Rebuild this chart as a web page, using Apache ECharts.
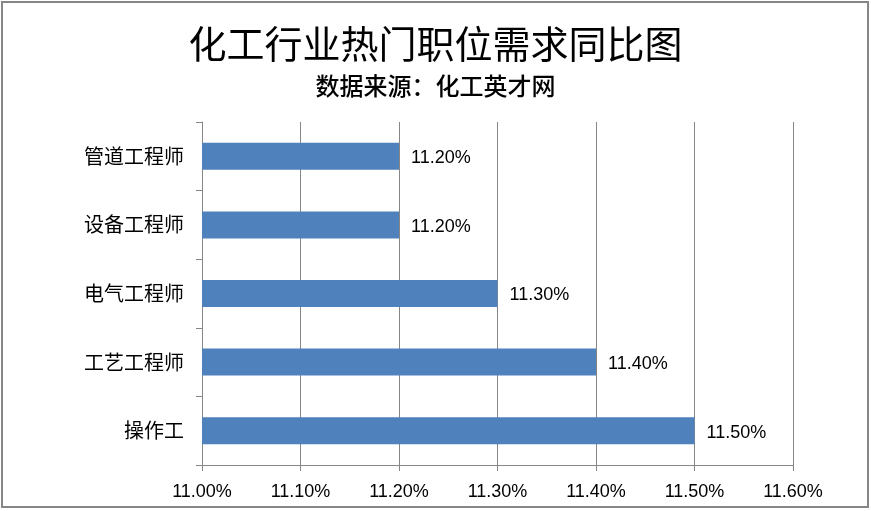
<!DOCTYPE html>
<html>
<head>
<meta charset="utf-8">
<script src="https://cdn.jsdelivr.net/npm/echarts@6/dist/echarts.min.js"></script>
<style>
  html, body { margin: 0; padding: 0; background: #fff; }
  #main { width: 871px; height: 511px; }
</style>
</head>
<body>
<div id="main"></div>
<script>
// 职位（从下到上）
const jobs = ['操作工', '工艺工程师', '电气工程师', '设备工程师', '管道工程师'];
// 同比 (%)
const ratios = [11.5, 11.4, 11.3, 11.2, 11.2];

const titleText = '化工行业热门职位需求同比图';
const subText = '数据来源：化工英才网';

var myChart = echarts.init(document.getElementById('main'));

var option = {
  animation: false,
  graphic: [
    {
      type: 'rect',
      shape: { x: 2, y: 2, width: 866, height: 505 },
      style: { fill: 'none', stroke: '#868686', lineWidth: 2 }
    }
  ],
  title: {
    text: titleText,
    subtext: subText,
    left: 'center',
    top: 20,
    itemGap: 11,
    textStyle: {
      fontFamily: 'Noto Sans CJK SC',
      fontSize: 38,
      fontWeight: 'normal',
      color: '#000'
    },
    subtextStyle: {
      fontFamily: 'Noto Sans CJK SC',
      fontSize: 24,
      fontWeight: 500,
      color: '#000'
    }
  },
  grid: {
    left: 202,
    right: 78,
    top: 122,
    bottom: 46,
    containLabel: false
  },
  xAxis: {
    type: 'value',
    min: 11.0,
    max: 11.6,
    interval: 0.1,
    axisLine: { show: true, lineStyle: { color: '#868686', width: 1 } },
    axisTick: { show: true, length: 6, lineStyle: { color: '#868686' } },
    splitLine: { show: true, lineStyle: { color: '#868686', width: 1 } },
    axisLabel: {
      margin: 18,
      fontFamily: 'Liberation Sans',
      fontSize: 18,
      color: '#000',
      formatter: function (v) { return v.toFixed(2) + '%'; }
    }
  },
  yAxis: {
    type: 'category',
    data: jobs,
    axisLine: { show: true, lineStyle: { color: '#868686', width: 1 } },
    axisTick: { show: true, length: 6, lineStyle: { color: '#868686' } },
    axisLabel: {
      margin: 18,
      fontFamily: 'Noto Sans CJK SC',
      fontSize: 20,
      color: '#000'
    }
  },
  series: [
    {
      type: 'bar',
      data: ratios,
      barWidth: 27,
      itemStyle: { color: '#4F81BD' },
      label: {
        show: true,
        position: 'right',
        distance: 12,
        offset: [0, 2],
        fontFamily: 'Liberation Sans',
        fontSize: 18,
        color: '#000',
        formatter: function (p) { return p.value.toFixed(2) + '%'; }
      }
    }
  ]
};

myChart.setOption(option);
</script>
</body>
</html>
